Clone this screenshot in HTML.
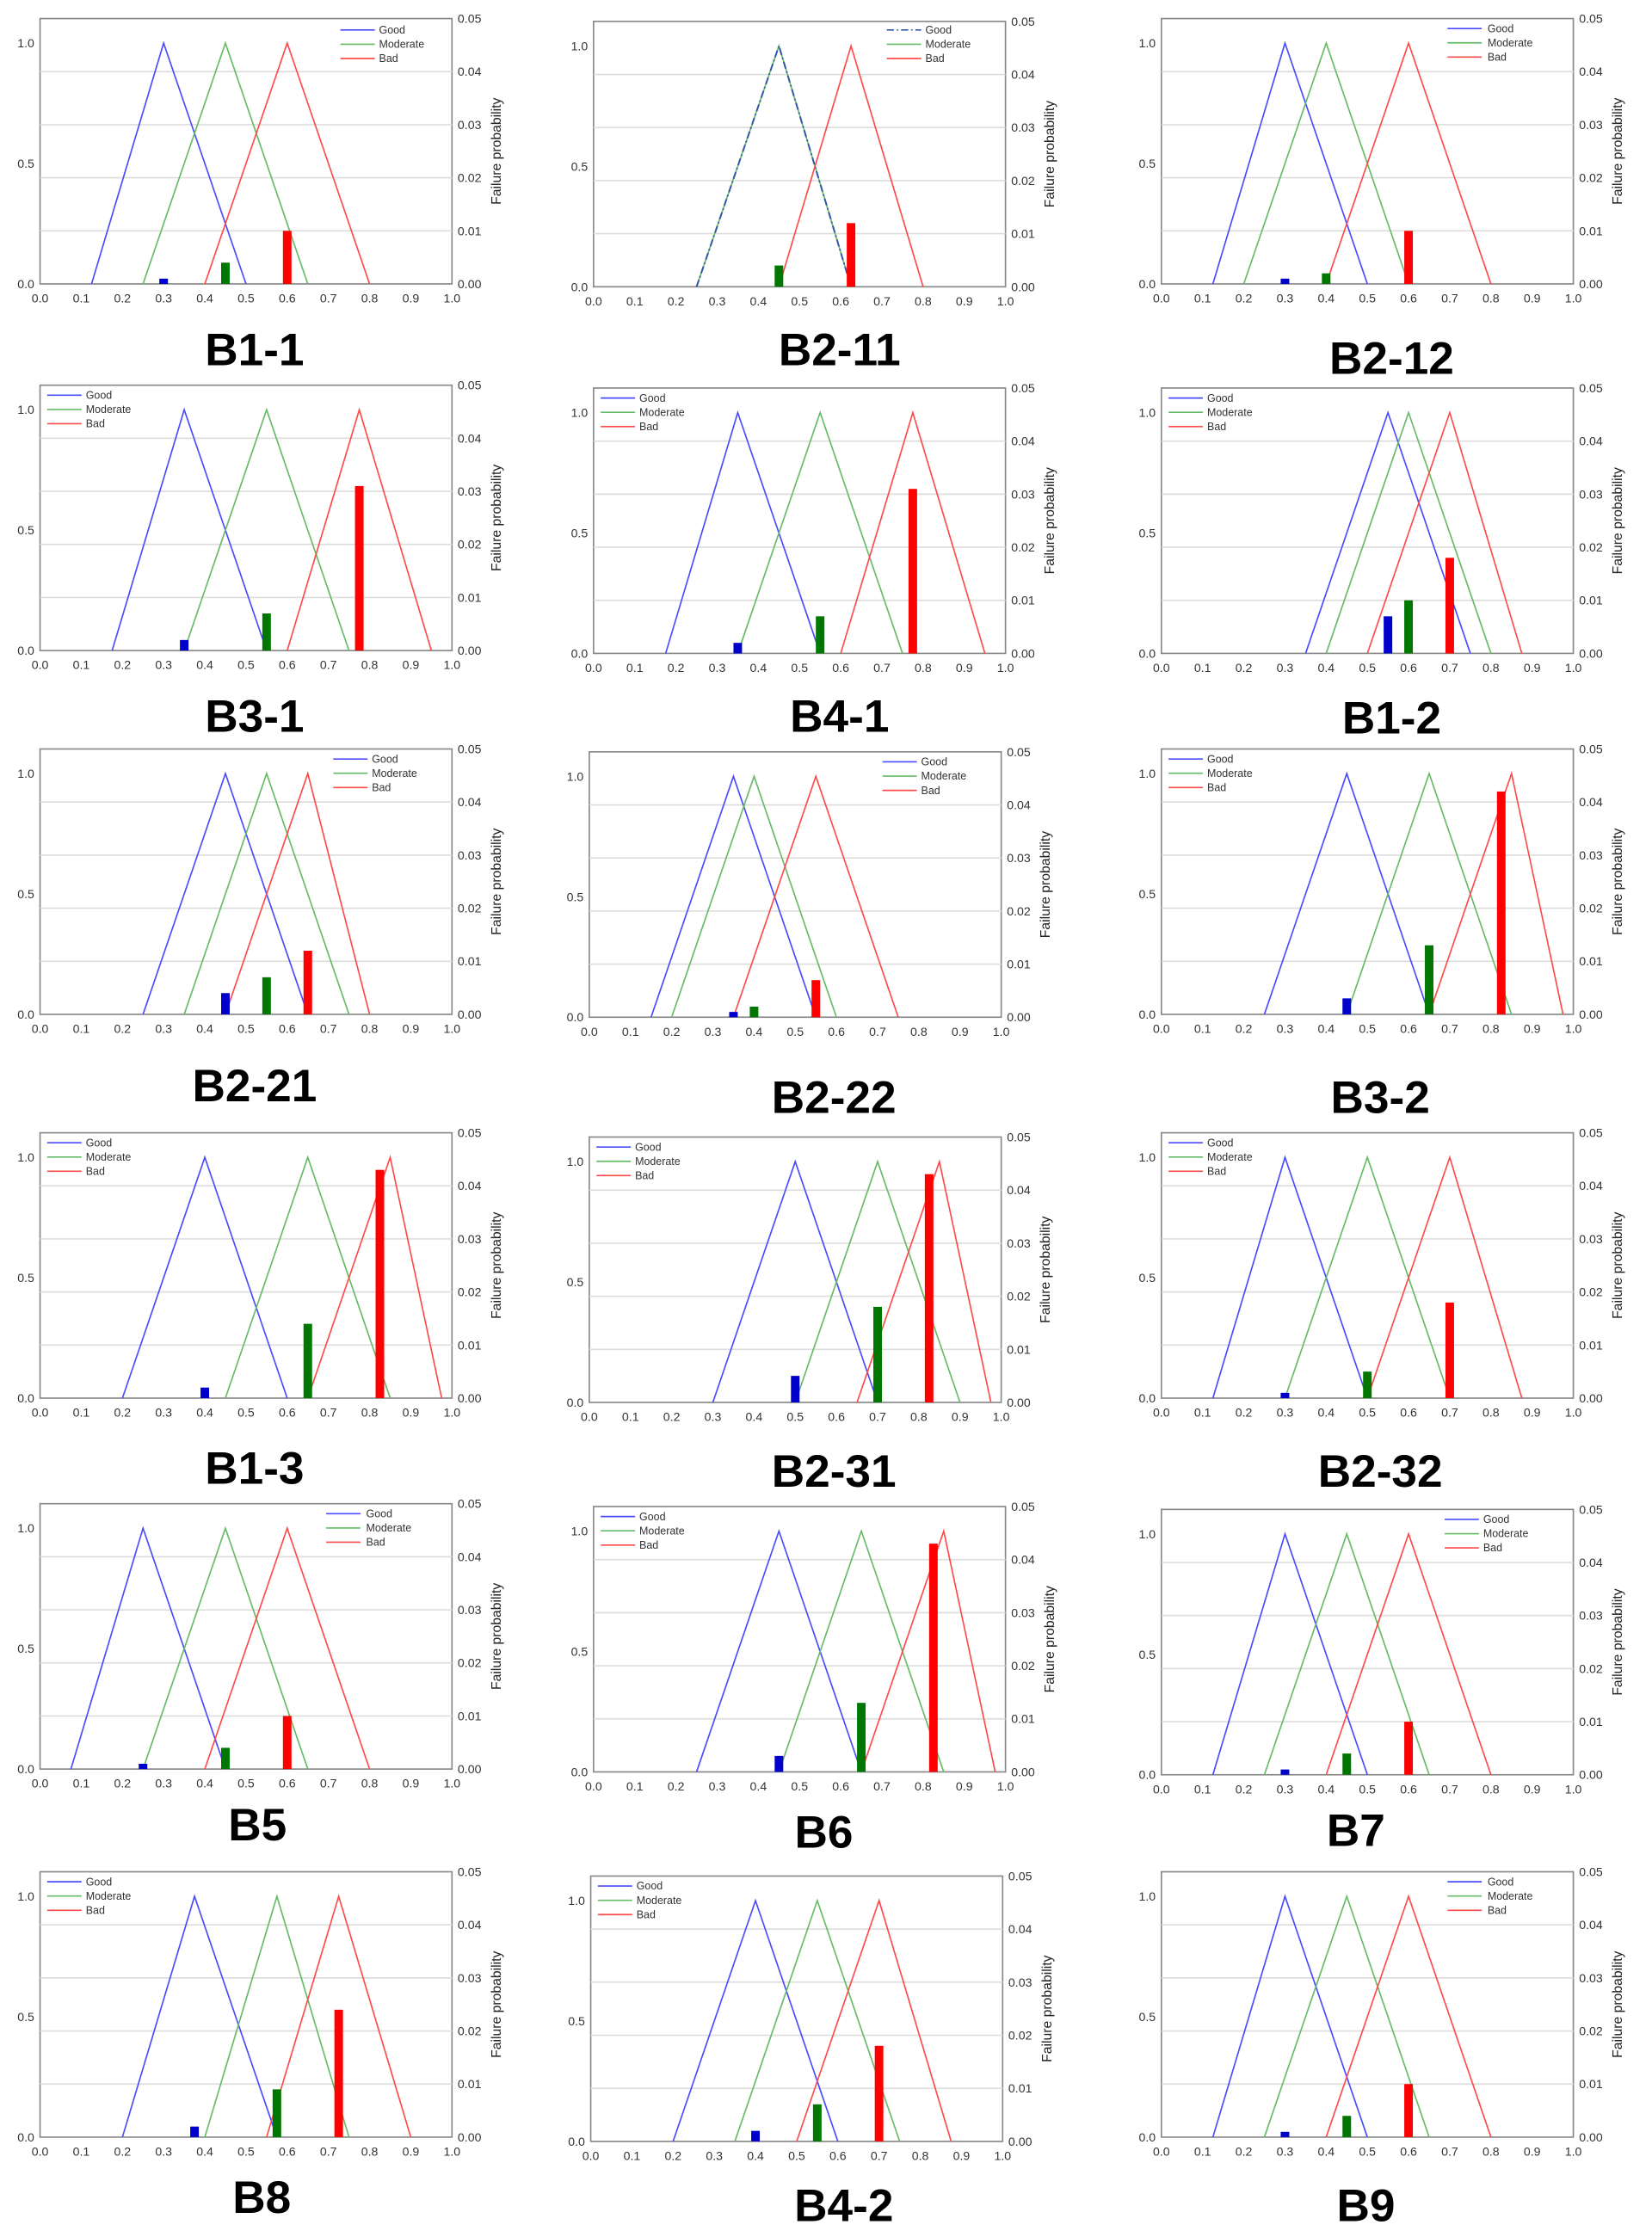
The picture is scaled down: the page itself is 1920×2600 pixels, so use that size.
<!DOCTYPE html>
<html><head><meta charset="utf-8"><style>
html,body{margin:0;padding:0;background:#fff}
svg{display:block}
.t{font-family:"Liberation Sans",sans-serif;font-size:8.5px;fill:#333}
.ft{font-family:"Liberation Sans",sans-serif;font-size:9.5px;fill:#222}
.lg{font-family:"Liberation Sans",sans-serif;font-size:7.5px;fill:#333}
.ti{font-family:"Liberation Sans",sans-serif;font-size:32px;font-weight:bold;fill:#000;text-anchor:middle}
.g{fill:none;stroke:#4a4aff;stroke-width:1}
.m{fill:none;stroke:#66bb66;stroke-width:1}
.b{fill:none;stroke:#ff4a4a;stroke-width:1}
</style></head><body>
<svg width="1920" height="2600" viewBox="0 0 1155 1568" preserveAspectRatio="none" xmlns="http://www.w3.org/2000/svg">
<rect width="1155" height="1568" fill="#fff"/>

<!-- ROW 1 -->
<g transform="translate(28,13)">
<rect width="288" height="186" fill="#fff" stroke="#888"/><path d="M0 148.8H288M0 111.6H288M0 74.4H288M0 37.2H288" stroke="#ddd"/>
<g class="t" text-anchor="end"><text x="-4" y="189">0.0</text><text x="-4" y="104.6">0.5</text><text x="-4" y="20.2">1.0</text></g>
<g class="t" text-anchor="middle"><text x="0" y="199">0.0</text><text x="28.8" y="199">0.1</text><text x="57.6" y="199">0.2</text><text x="86.4" y="199">0.3</text><text x="115.2" y="199">0.4</text><text x="144" y="199">0.5</text><text x="172.8" y="199">0.6</text><text x="201.6" y="199">0.7</text><text x="230.4" y="199">0.8</text><text x="259.2" y="199">0.9</text><text x="288" y="199">1.0</text></g>
<g class="t"><text x="292" y="189">0.00</text><text x="292" y="151.8">0.01</text><text x="292" y="114.6">0.02</text><text x="292" y="77.4">0.03</text><text x="292" y="40.2">0.04</text><text x="292" y="3">0.05</text></g>
<text class="ft" transform="translate(322,93) rotate(-90)" text-anchor="middle">Failure probability</text>
<polyline class="g" points="36,186 86.4,17.2 144,186"/><polyline class="m" points="72,186 129.6,17.2 187.2,186"/><polyline class="b" points="115.2,186 172.8,17.2 230.4,186"/>
<rect x="83.4" y="182.3" width="6" height="3.7" fill="#0000cc"/><rect x="126.6" y="171.1" width="6" height="14.9" fill="#007700"/><rect x="169.8" y="148.8" width="6" height="37.2" fill="#f00"/>
<path d="M210 8h24" stroke="#4a4aff"/><path d="M210 18h24" stroke="#66bb66"/><path d="M210 28h24" stroke="#ff4a4a"/>
<text class="lg" x="237" y="10.5">Good</text><text class="lg" x="237" y="20.5">Moderate</text><text class="lg" x="237" y="30.5">Bad</text>
</g>
<text class="ti" x="178" y="256">B1-1</text>

<g transform="translate(415,15)">
<rect width="288" height="186" fill="#fff" stroke="#888"/><path d="M0 148.8H288M0 111.6H288M0 74.4H288M0 37.2H288" stroke="#ddd"/>
<g class="t" text-anchor="end"><text x="-4" y="189">0.0</text><text x="-4" y="104.6">0.5</text><text x="-4" y="20.2">1.0</text></g>
<g class="t" text-anchor="middle"><text x="0" y="199">0.0</text><text x="28.8" y="199">0.1</text><text x="57.6" y="199">0.2</text><text x="86.4" y="199">0.3</text><text x="115.2" y="199">0.4</text><text x="144" y="199">0.5</text><text x="172.8" y="199">0.6</text><text x="201.6" y="199">0.7</text><text x="230.4" y="199">0.8</text><text x="259.2" y="199">0.9</text><text x="288" y="199">1.0</text></g>
<g class="t"><text x="292" y="189">0.00</text><text x="292" y="151.8">0.01</text><text x="292" y="114.6">0.02</text><text x="292" y="77.4">0.03</text><text x="292" y="40.2">0.04</text><text x="292" y="3">0.05</text></g>
<text class="ft" transform="translate(322,93) rotate(-90)" text-anchor="middle">Failure probability</text>
<polyline class="m" points="72,186 129.6,17.2 180,186"/><polyline fill="none" stroke="#3355aa" stroke-width="1.2" stroke-dasharray="5,2,1,2" points="72,186 129.6,17.2 180,186"/><polyline class="b" points="129.6,186 180,17.2 230.4,186"/>
<rect x="126.6" y="171.1" width="6" height="14.9" fill="#007700"/><rect x="177" y="141.4" width="6" height="44.6" fill="#f00"/>
<path d="M205 6h24" stroke="#3355aa" stroke-dasharray="5,2,1,2"/><path d="M205 16h24" stroke="#66bb66"/><path d="M205 26h24" stroke="#ff4a4a"/>
<text class="lg" x="232" y="8.5">Good</text><text class="lg" x="232" y="18.5">Moderate</text><text class="lg" x="232" y="28.5">Bad</text>
</g>
<text class="ti" x="587" y="256">B2-11</text>

<g transform="translate(812,13)">
<rect width="288" height="186" fill="#fff" stroke="#888"/><path d="M0 148.8H288M0 111.6H288M0 74.4H288M0 37.2H288" stroke="#ddd"/>
<g class="t" text-anchor="end"><text x="-4" y="189">0.0</text><text x="-4" y="104.6">0.5</text><text x="-4" y="20.2">1.0</text></g>
<g class="t" text-anchor="middle"><text x="0" y="199">0.0</text><text x="28.8" y="199">0.1</text><text x="57.6" y="199">0.2</text><text x="86.4" y="199">0.3</text><text x="115.2" y="199">0.4</text><text x="144" y="199">0.5</text><text x="172.8" y="199">0.6</text><text x="201.6" y="199">0.7</text><text x="230.4" y="199">0.8</text><text x="259.2" y="199">0.9</text><text x="288" y="199">1.0</text></g>
<g class="t"><text x="292" y="189">0.00</text><text x="292" y="151.8">0.01</text><text x="292" y="114.6">0.02</text><text x="292" y="77.4">0.03</text><text x="292" y="40.2">0.04</text><text x="292" y="3">0.05</text></g>
<text class="ft" transform="translate(322,93) rotate(-90)" text-anchor="middle">Failure probability</text>
<polyline class="g" points="36,186 86.4,17.2 144,186"/><polyline class="m" points="57.6,186 115.2,17.2 172.8,186"/><polyline class="b" points="115.2,186 172.8,17.2 230.4,186"/>
<rect x="83.4" y="182.3" width="6" height="3.7" fill="#0000cc"/><rect x="112.2" y="178.6" width="6" height="7.4" fill="#007700"/><rect x="169.8" y="148.8" width="6" height="37.2" fill="#f00"/>
<path d="M200 7h24" stroke="#4a4aff"/><path d="M200 17h24" stroke="#66bb66"/><path d="M200 27h24" stroke="#ff4a4a"/>
<text class="lg" x="228" y="9.5">Good</text><text class="lg" x="228" y="19.5">Moderate</text><text class="lg" x="228" y="29.5">Bad</text>
</g>
<text class="ti" x="973" y="262">B2-12</text>

<!-- ROW 2 -->
<g transform="translate(28,270)">
<rect width="288" height="186" fill="#fff" stroke="#888"/><path d="M0 148.8H288M0 111.6H288M0 74.4H288M0 37.2H288" stroke="#ddd"/>
<g class="t" text-anchor="end"><text x="-4" y="189">0.0</text><text x="-4" y="104.6">0.5</text><text x="-4" y="20.2">1.0</text></g>
<g class="t" text-anchor="middle"><text x="0" y="199">0.0</text><text x="28.8" y="199">0.1</text><text x="57.6" y="199">0.2</text><text x="86.4" y="199">0.3</text><text x="115.2" y="199">0.4</text><text x="144" y="199">0.5</text><text x="172.8" y="199">0.6</text><text x="201.6" y="199">0.7</text><text x="230.4" y="199">0.8</text><text x="259.2" y="199">0.9</text><text x="288" y="199">1.0</text></g>
<g class="t"><text x="292" y="189">0.00</text><text x="292" y="151.8">0.01</text><text x="292" y="114.6">0.02</text><text x="292" y="77.4">0.03</text><text x="292" y="40.2">0.04</text><text x="292" y="3">0.05</text></g>
<text class="ft" transform="translate(322,93) rotate(-90)" text-anchor="middle">Failure probability</text>
<polyline class="g" points="50.4,186 100.8,17.2 158.4,186"/><polyline class="m" points="100.8,186 158.4,17.2 216,186"/><polyline class="b" points="172.8,186 223.2,17.2 273.6,186"/>
<rect x="97.8" y="178.6" width="6" height="7.4" fill="#0000cc"/><rect x="155.4" y="160" width="6" height="26" fill="#007700"/><rect x="220.2" y="70.7" width="6" height="115.3" fill="#f00"/>
<path d="M5 7h24" stroke="#4a4aff"/><path d="M5 17h24" stroke="#66bb66"/><path d="M5 27h24" stroke="#ff4a4a"/>
<text class="lg" x="32" y="9.5">Good</text><text class="lg" x="32" y="19.5">Moderate</text><text class="lg" x="32" y="29.5">Bad</text>
</g>
<text class="ti" x="178" y="513">B3-1</text>

<g transform="translate(415,272)">
<rect width="288" height="186" fill="#fff" stroke="#888"/><path d="M0 148.8H288M0 111.6H288M0 74.4H288M0 37.2H288" stroke="#ddd"/>
<g class="t" text-anchor="end"><text x="-4" y="189">0.0</text><text x="-4" y="104.6">0.5</text><text x="-4" y="20.2">1.0</text></g>
<g class="t" text-anchor="middle"><text x="0" y="199">0.0</text><text x="28.8" y="199">0.1</text><text x="57.6" y="199">0.2</text><text x="86.4" y="199">0.3</text><text x="115.2" y="199">0.4</text><text x="144" y="199">0.5</text><text x="172.8" y="199">0.6</text><text x="201.6" y="199">0.7</text><text x="230.4" y="199">0.8</text><text x="259.2" y="199">0.9</text><text x="288" y="199">1.0</text></g>
<g class="t"><text x="292" y="189">0.00</text><text x="292" y="151.8">0.01</text><text x="292" y="114.6">0.02</text><text x="292" y="77.4">0.03</text><text x="292" y="40.2">0.04</text><text x="292" y="3">0.05</text></g>
<text class="ft" transform="translate(322,93) rotate(-90)" text-anchor="middle">Failure probability</text>
<polyline class="g" points="50.4,186 100.8,17.2 158.4,186"/><polyline class="m" points="100.8,186 158.4,17.2 216,186"/><polyline class="b" points="172.8,186 223.2,17.2 273.6,186"/>
<rect x="97.8" y="178.6" width="6" height="7.4" fill="#0000cc"/><rect x="155.4" y="160" width="6" height="26" fill="#007700"/><rect x="220.2" y="70.7" width="6" height="115.3" fill="#f00"/>
<path d="M5 7h24" stroke="#4a4aff"/><path d="M5 17h24" stroke="#66bb66"/><path d="M5 27h24" stroke="#ff4a4a"/>
<text class="lg" x="32" y="9.5">Good</text><text class="lg" x="32" y="19.5">Moderate</text><text class="lg" x="32" y="29.5">Bad</text>
</g>
<text class="ti" x="587" y="513">B4-1</text>

<g transform="translate(812,272)">
<rect width="288" height="186" fill="#fff" stroke="#888"/><path d="M0 148.8H288M0 111.6H288M0 74.4H288M0 37.2H288" stroke="#ddd"/>
<g class="t" text-anchor="end"><text x="-4" y="189">0.0</text><text x="-4" y="104.6">0.5</text><text x="-4" y="20.2">1.0</text></g>
<g class="t" text-anchor="middle"><text x="0" y="199">0.0</text><text x="28.8" y="199">0.1</text><text x="57.6" y="199">0.2</text><text x="86.4" y="199">0.3</text><text x="115.2" y="199">0.4</text><text x="144" y="199">0.5</text><text x="172.8" y="199">0.6</text><text x="201.6" y="199">0.7</text><text x="230.4" y="199">0.8</text><text x="259.2" y="199">0.9</text><text x="288" y="199">1.0</text></g>
<g class="t"><text x="292" y="189">0.00</text><text x="292" y="151.8">0.01</text><text x="292" y="114.6">0.02</text><text x="292" y="77.4">0.03</text><text x="292" y="40.2">0.04</text><text x="292" y="3">0.05</text></g>
<text class="ft" transform="translate(322,93) rotate(-90)" text-anchor="middle">Failure probability</text>
<polyline class="g" points="100.8,186 158.4,17.2 216,186"/><polyline class="m" points="115.2,186 172.8,17.2 230.4,186"/><polyline class="b" points="144,186 201.6,17.2 252,186"/>
<rect x="155.4" y="160" width="6" height="26" fill="#0000cc"/><rect x="169.8" y="148.8" width="6" height="37.2" fill="#007700"/><rect x="198.6" y="119" width="6" height="67" fill="#f00"/>
<path d="M5 7h24" stroke="#4a4aff"/><path d="M5 17h24" stroke="#66bb66"/><path d="M5 27h24" stroke="#ff4a4a"/>
<text class="lg" x="32" y="9.5">Good</text><text class="lg" x="32" y="19.5">Moderate</text><text class="lg" x="32" y="29.5">Bad</text>
</g>
<text class="ti" x="973" y="514">B1-2</text>

<!-- ROW 3 -->
<g transform="translate(28,525)">
<rect width="288" height="186" fill="#fff" stroke="#888"/><path d="M0 148.8H288M0 111.6H288M0 74.4H288M0 37.2H288" stroke="#ddd"/>
<g class="t" text-anchor="end"><text x="-4" y="189">0.0</text><text x="-4" y="104.6">0.5</text><text x="-4" y="20.2">1.0</text></g>
<g class="t" text-anchor="middle"><text x="0" y="199">0.0</text><text x="28.8" y="199">0.1</text><text x="57.6" y="199">0.2</text><text x="86.4" y="199">0.3</text><text x="115.2" y="199">0.4</text><text x="144" y="199">0.5</text><text x="172.8" y="199">0.6</text><text x="201.6" y="199">0.7</text><text x="230.4" y="199">0.8</text><text x="259.2" y="199">0.9</text><text x="288" y="199">1.0</text></g>
<g class="t"><text x="292" y="189">0.00</text><text x="292" y="151.8">0.01</text><text x="292" y="114.6">0.02</text><text x="292" y="77.4">0.03</text><text x="292" y="40.2">0.04</text><text x="292" y="3">0.05</text></g>
<text class="ft" transform="translate(322,93) rotate(-90)" text-anchor="middle">Failure probability</text>
<polyline class="g" points="72,186 129.6,17.2 187.2,186"/><polyline class="m" points="100.8,186 158.4,17.2 216,186"/><polyline class="b" points="129.6,186 187.2,17.2 230.4,186"/>
<rect x="126.6" y="171.1" width="6" height="14.9" fill="#0000cc"/><rect x="155.4" y="160" width="6" height="26" fill="#007700"/><rect x="184.2" y="141.4" width="6" height="44.6" fill="#f00"/>
<path d="M205 7h24" stroke="#4a4aff"/><path d="M205 17h24" stroke="#66bb66"/><path d="M205 27h24" stroke="#ff4a4a"/>
<text class="lg" x="232" y="9.5">Good</text><text class="lg" x="232" y="19.5">Moderate</text><text class="lg" x="232" y="29.5">Bad</text>
</g>
<text class="ti" x="178" y="772">B2-21</text>

<g transform="translate(412,527)">
<rect width="288" height="186" fill="#fff" stroke="#888"/><path d="M0 148.8H288M0 111.6H288M0 74.4H288M0 37.2H288" stroke="#ddd"/>
<g class="t" text-anchor="end"><text x="-4" y="189">0.0</text><text x="-4" y="104.6">0.5</text><text x="-4" y="20.2">1.0</text></g>
<g class="t" text-anchor="middle"><text x="0" y="199">0.0</text><text x="28.8" y="199">0.1</text><text x="57.6" y="199">0.2</text><text x="86.4" y="199">0.3</text><text x="115.2" y="199">0.4</text><text x="144" y="199">0.5</text><text x="172.8" y="199">0.6</text><text x="201.6" y="199">0.7</text><text x="230.4" y="199">0.8</text><text x="259.2" y="199">0.9</text><text x="288" y="199">1.0</text></g>
<g class="t"><text x="292" y="189">0.00</text><text x="292" y="151.8">0.01</text><text x="292" y="114.6">0.02</text><text x="292" y="77.4">0.03</text><text x="292" y="40.2">0.04</text><text x="292" y="3">0.05</text></g>
<text class="ft" transform="translate(322,93) rotate(-90)" text-anchor="middle">Failure probability</text>
<polyline class="g" points="43.2,186 100.8,17.2 158.4,186"/><polyline class="m" points="57.6,186 115.2,17.2 172.8,186"/><polyline class="b" points="100.8,186 158.4,17.2 216,186"/>
<rect x="97.8" y="182.3" width="6" height="3.7" fill="#0000cc"/><rect x="112.2" y="178.6" width="6" height="7.4" fill="#007700"/><rect x="155.4" y="160" width="6" height="26" fill="#f00"/>
<path d="M205 7h24" stroke="#4a4aff"/><path d="M205 17h24" stroke="#66bb66"/><path d="M205 27h24" stroke="#ff4a4a"/>
<text class="lg" x="232" y="9.5">Good</text><text class="lg" x="232" y="19.5">Moderate</text><text class="lg" x="232" y="29.5">Bad</text>
</g>
<text class="ti" x="583" y="780">B2-22</text>

<g transform="translate(812,525)">
<rect width="288" height="186" fill="#fff" stroke="#888"/><path d="M0 148.8H288M0 111.6H288M0 74.4H288M0 37.2H288" stroke="#ddd"/>
<g class="t" text-anchor="end"><text x="-4" y="189">0.0</text><text x="-4" y="104.6">0.5</text><text x="-4" y="20.2">1.0</text></g>
<g class="t" text-anchor="middle"><text x="0" y="199">0.0</text><text x="28.8" y="199">0.1</text><text x="57.6" y="199">0.2</text><text x="86.4" y="199">0.3</text><text x="115.2" y="199">0.4</text><text x="144" y="199">0.5</text><text x="172.8" y="199">0.6</text><text x="201.6" y="199">0.7</text><text x="230.4" y="199">0.8</text><text x="259.2" y="199">0.9</text><text x="288" y="199">1.0</text></g>
<g class="t"><text x="292" y="189">0.00</text><text x="292" y="151.8">0.01</text><text x="292" y="114.6">0.02</text><text x="292" y="77.4">0.03</text><text x="292" y="40.2">0.04</text><text x="292" y="3">0.05</text></g>
<text class="ft" transform="translate(322,93) rotate(-90)" text-anchor="middle">Failure probability</text>
<polyline class="g" points="72,186 129.6,17.2 187.2,186"/><polyline class="m" points="129.6,186 187.2,17.2 244.8,186"/><polyline class="b" points="187.2,186 244.8,17.2 280.8,186"/>
<rect x="126.6" y="174.8" width="6" height="11.2" fill="#0000cc"/><rect x="184.2" y="137.6" width="6" height="48.4" fill="#007700"/><rect x="234.6" y="29.8" width="6" height="156.2" fill="#f00"/>
<path d="M5 7h24" stroke="#4a4aff"/><path d="M5 17h24" stroke="#66bb66"/><path d="M5 27h24" stroke="#ff4a4a"/>
<text class="lg" x="32" y="9.5">Good</text><text class="lg" x="32" y="19.5">Moderate</text><text class="lg" x="32" y="29.5">Bad</text>
</g>
<text class="ti" x="965" y="780">B3-2</text>

<!-- ROW 4 -->
<g transform="translate(28,794)">
<rect width="288" height="186" fill="#fff" stroke="#888"/><path d="M0 148.8H288M0 111.6H288M0 74.4H288M0 37.2H288" stroke="#ddd"/>
<g class="t" text-anchor="end"><text x="-4" y="189">0.0</text><text x="-4" y="104.6">0.5</text><text x="-4" y="20.2">1.0</text></g>
<g class="t" text-anchor="middle"><text x="0" y="199">0.0</text><text x="28.8" y="199">0.1</text><text x="57.6" y="199">0.2</text><text x="86.4" y="199">0.3</text><text x="115.2" y="199">0.4</text><text x="144" y="199">0.5</text><text x="172.8" y="199">0.6</text><text x="201.6" y="199">0.7</text><text x="230.4" y="199">0.8</text><text x="259.2" y="199">0.9</text><text x="288" y="199">1.0</text></g>
<g class="t"><text x="292" y="189">0.00</text><text x="292" y="151.8">0.01</text><text x="292" y="114.6">0.02</text><text x="292" y="77.4">0.03</text><text x="292" y="40.2">0.04</text><text x="292" y="3">0.05</text></g>
<text class="ft" transform="translate(322,93) rotate(-90)" text-anchor="middle">Failure probability</text>
<polyline class="g" points="57.6,186 115.2,17.2 172.8,186"/><polyline class="m" points="129.6,186 187.2,17.2 244.8,186"/><polyline class="b" points="187.2,186 244.8,17.2 280.8,186"/>
<rect x="112.2" y="178.6" width="6" height="7.4" fill="#0000cc"/><rect x="184.2" y="133.9" width="6" height="52.1" fill="#007700"/><rect x="234.6" y="26" width="6" height="160" fill="#f00"/>
<path d="M5 7h24" stroke="#4a4aff"/><path d="M5 17h24" stroke="#66bb66"/><path d="M5 27h24" stroke="#ff4a4a"/>
<text class="lg" x="32" y="9.5">Good</text><text class="lg" x="32" y="19.5">Moderate</text><text class="lg" x="32" y="29.5">Bad</text>
</g>
<text class="ti" x="178" y="1040">B1-3</text>

<g transform="translate(412,797)">
<rect width="288" height="186" fill="#fff" stroke="#888"/><path d="M0 148.8H288M0 111.6H288M0 74.4H288M0 37.2H288" stroke="#ddd"/>
<g class="t" text-anchor="end"><text x="-4" y="189">0.0</text><text x="-4" y="104.6">0.5</text><text x="-4" y="20.2">1.0</text></g>
<g class="t" text-anchor="middle"><text x="0" y="199">0.0</text><text x="28.8" y="199">0.1</text><text x="57.6" y="199">0.2</text><text x="86.4" y="199">0.3</text><text x="115.2" y="199">0.4</text><text x="144" y="199">0.5</text><text x="172.8" y="199">0.6</text><text x="201.6" y="199">0.7</text><text x="230.4" y="199">0.8</text><text x="259.2" y="199">0.9</text><text x="288" y="199">1.0</text></g>
<g class="t"><text x="292" y="189">0.00</text><text x="292" y="151.8">0.01</text><text x="292" y="114.6">0.02</text><text x="292" y="77.4">0.03</text><text x="292" y="40.2">0.04</text><text x="292" y="3">0.05</text></g>
<text class="ft" transform="translate(322,93) rotate(-90)" text-anchor="middle">Failure probability</text>
<polyline class="g" points="86.4,186 144,17.2 201.6,186"/><polyline class="m" points="144,186 201.6,17.2 259.2,186"/><polyline class="b" points="187.2,186 244.8,17.2 280.8,186"/>
<rect x="141" y="167.4" width="6" height="18.6" fill="#0000cc"/><rect x="198.6" y="119" width="6" height="67" fill="#007700"/><rect x="234.6" y="26" width="6" height="160" fill="#f00"/>
<path d="M5 7h24" stroke="#4a4aff"/><path d="M5 17h24" stroke="#66bb66"/><path d="M5 27h24" stroke="#ff4a4a"/>
<text class="lg" x="32" y="9.5">Good</text><text class="lg" x="32" y="19.5">Moderate</text><text class="lg" x="32" y="29.5">Bad</text>
</g>
<text class="ti" x="583" y="1042">B2-31</text>

<g transform="translate(812,794)">
<rect width="288" height="186" fill="#fff" stroke="#888"/><path d="M0 148.8H288M0 111.6H288M0 74.4H288M0 37.2H288" stroke="#ddd"/>
<g class="t" text-anchor="end"><text x="-4" y="189">0.0</text><text x="-4" y="104.6">0.5</text><text x="-4" y="20.2">1.0</text></g>
<g class="t" text-anchor="middle"><text x="0" y="199">0.0</text><text x="28.8" y="199">0.1</text><text x="57.6" y="199">0.2</text><text x="86.4" y="199">0.3</text><text x="115.2" y="199">0.4</text><text x="144" y="199">0.5</text><text x="172.8" y="199">0.6</text><text x="201.6" y="199">0.7</text><text x="230.4" y="199">0.8</text><text x="259.2" y="199">0.9</text><text x="288" y="199">1.0</text></g>
<g class="t"><text x="292" y="189">0.00</text><text x="292" y="151.8">0.01</text><text x="292" y="114.6">0.02</text><text x="292" y="77.4">0.03</text><text x="292" y="40.2">0.04</text><text x="292" y="3">0.05</text></g>
<text class="ft" transform="translate(322,93) rotate(-90)" text-anchor="middle">Failure probability</text>
<polyline class="g" points="36,186 86.4,17.2 144,186"/><polyline class="m" points="86.4,186 144,17.2 201.6,186"/><polyline class="b" points="144,186 201.6,17.2 252,186"/>
<rect x="83.4" y="182.3" width="6" height="3.7" fill="#0000cc"/><rect x="141" y="167.4" width="6" height="18.6" fill="#007700"/><rect x="198.6" y="119" width="6" height="67" fill="#f00"/>
<path d="M5 7h24" stroke="#4a4aff"/><path d="M5 17h24" stroke="#66bb66"/><path d="M5 27h24" stroke="#ff4a4a"/>
<text class="lg" x="32" y="9.5">Good</text><text class="lg" x="32" y="19.5">Moderate</text><text class="lg" x="32" y="29.5">Bad</text>
</g>
<text class="ti" x="965" y="1042">B2-32</text>

<!-- ROW 5 -->
<g transform="translate(28,1054)">
<rect width="288" height="186" fill="#fff" stroke="#888"/><path d="M0 148.8H288M0 111.6H288M0 74.4H288M0 37.2H288" stroke="#ddd"/>
<g class="t" text-anchor="end"><text x="-4" y="189">0.0</text><text x="-4" y="104.6">0.5</text><text x="-4" y="20.2">1.0</text></g>
<g class="t" text-anchor="middle"><text x="0" y="199">0.0</text><text x="28.8" y="199">0.1</text><text x="57.6" y="199">0.2</text><text x="86.4" y="199">0.3</text><text x="115.2" y="199">0.4</text><text x="144" y="199">0.5</text><text x="172.8" y="199">0.6</text><text x="201.6" y="199">0.7</text><text x="230.4" y="199">0.8</text><text x="259.2" y="199">0.9</text><text x="288" y="199">1.0</text></g>
<g class="t"><text x="292" y="189">0.00</text><text x="292" y="151.8">0.01</text><text x="292" y="114.6">0.02</text><text x="292" y="77.4">0.03</text><text x="292" y="40.2">0.04</text><text x="292" y="3">0.05</text></g>
<text class="ft" transform="translate(322,93) rotate(-90)" text-anchor="middle">Failure probability</text>
<polyline class="g" points="21.6,186 72,17.2 129.6,186"/><polyline class="m" points="72,186 129.6,17.2 187.2,186"/><polyline class="b" points="115.2,186 172.8,17.2 230.4,186"/>
<rect x="69" y="182.3" width="6" height="3.7" fill="#0000cc"/><rect x="126.6" y="171.1" width="6" height="14.9" fill="#007700"/><rect x="169.8" y="148.8" width="6" height="37.2" fill="#f00"/>
<path d="M200 7h24" stroke="#4a4aff"/><path d="M200 17h24" stroke="#66bb66"/><path d="M200 27h24" stroke="#ff4a4a"/>
<text class="lg" x="228" y="9.5">Good</text><text class="lg" x="228" y="19.5">Moderate</text><text class="lg" x="228" y="29.5">Bad</text>
</g>
<text class="ti" x="180" y="1290">B5</text>

<g transform="translate(415,1056)">
<rect width="288" height="186" fill="#fff" stroke="#888"/><path d="M0 148.8H288M0 111.6H288M0 74.4H288M0 37.2H288" stroke="#ddd"/>
<g class="t" text-anchor="end"><text x="-4" y="189">0.0</text><text x="-4" y="104.6">0.5</text><text x="-4" y="20.2">1.0</text></g>
<g class="t" text-anchor="middle"><text x="0" y="199">0.0</text><text x="28.8" y="199">0.1</text><text x="57.6" y="199">0.2</text><text x="86.4" y="199">0.3</text><text x="115.2" y="199">0.4</text><text x="144" y="199">0.5</text><text x="172.8" y="199">0.6</text><text x="201.6" y="199">0.7</text><text x="230.4" y="199">0.8</text><text x="259.2" y="199">0.9</text><text x="288" y="199">1.0</text></g>
<g class="t"><text x="292" y="189">0.00</text><text x="292" y="151.8">0.01</text><text x="292" y="114.6">0.02</text><text x="292" y="77.4">0.03</text><text x="292" y="40.2">0.04</text><text x="292" y="3">0.05</text></g>
<text class="ft" transform="translate(322,93) rotate(-90)" text-anchor="middle">Failure probability</text>
<polyline class="g" points="72,186 129.6,17.2 187.2,186"/><polyline class="m" points="129.6,186 187.2,17.2 244.8,186"/><polyline class="b" points="187.2,186 244.8,17.2 280.8,186"/>
<rect x="126.6" y="174.8" width="6" height="11.2" fill="#0000cc"/><rect x="184.2" y="137.6" width="6" height="48.4" fill="#007700"/><rect x="234.6" y="26" width="6" height="160" fill="#f00"/>
<path d="M5 7h24" stroke="#4a4aff"/><path d="M5 17h24" stroke="#66bb66"/><path d="M5 27h24" stroke="#ff4a4a"/>
<text class="lg" x="32" y="9.5">Good</text><text class="lg" x="32" y="19.5">Moderate</text><text class="lg" x="32" y="29.5">Bad</text>
</g>
<text class="ti" x="576" y="1295">B6</text>

<g transform="translate(812,1058)">
<rect width="288" height="186" fill="#fff" stroke="#888"/><path d="M0 148.8H288M0 111.6H288M0 74.4H288M0 37.2H288" stroke="#ddd"/>
<g class="t" text-anchor="end"><text x="-4" y="189">0.0</text><text x="-4" y="104.6">0.5</text><text x="-4" y="20.2">1.0</text></g>
<g class="t" text-anchor="middle"><text x="0" y="199">0.0</text><text x="28.8" y="199">0.1</text><text x="57.6" y="199">0.2</text><text x="86.4" y="199">0.3</text><text x="115.2" y="199">0.4</text><text x="144" y="199">0.5</text><text x="172.8" y="199">0.6</text><text x="201.6" y="199">0.7</text><text x="230.4" y="199">0.8</text><text x="259.2" y="199">0.9</text><text x="288" y="199">1.0</text></g>
<g class="t"><text x="292" y="189">0.00</text><text x="292" y="151.8">0.01</text><text x="292" y="114.6">0.02</text><text x="292" y="77.4">0.03</text><text x="292" y="40.2">0.04</text><text x="292" y="3">0.05</text></g>
<text class="ft" transform="translate(322,93) rotate(-90)" text-anchor="middle">Failure probability</text>
<polyline class="g" points="36,186 86.4,17.2 144,186"/><polyline class="m" points="72,186 129.6,17.2 187.2,186"/><polyline class="b" points="115.2,186 172.8,17.2 230.4,186"/>
<rect x="83.4" y="182.3" width="6" height="3.7" fill="#0000cc"/><rect x="126.6" y="171.1" width="6" height="14.9" fill="#007700"/><rect x="169.8" y="148.8" width="6" height="37.2" fill="#f00"/>
<path d="M198 7h24" stroke="#4a4aff"/><path d="M198 17h24" stroke="#66bb66"/><path d="M198 27h24" stroke="#ff4a4a"/>
<text class="lg" x="225" y="9.5">Good</text><text class="lg" x="225" y="19.5">Moderate</text><text class="lg" x="225" y="29.5">Bad</text>
</g>
<text class="ti" x="948" y="1294">B7</text>

<!-- ROW 6 -->
<g transform="translate(28,1312)">
<rect width="288" height="186" fill="#fff" stroke="#888"/><path d="M0 148.8H288M0 111.6H288M0 74.4H288M0 37.2H288" stroke="#ddd"/>
<g class="t" text-anchor="end"><text x="-4" y="189">0.0</text><text x="-4" y="104.6">0.5</text><text x="-4" y="20.2">1.0</text></g>
<g class="t" text-anchor="middle"><text x="0" y="199">0.0</text><text x="28.8" y="199">0.1</text><text x="57.6" y="199">0.2</text><text x="86.4" y="199">0.3</text><text x="115.2" y="199">0.4</text><text x="144" y="199">0.5</text><text x="172.8" y="199">0.6</text><text x="201.6" y="199">0.7</text><text x="230.4" y="199">0.8</text><text x="259.2" y="199">0.9</text><text x="288" y="199">1.0</text></g>
<g class="t"><text x="292" y="189">0.00</text><text x="292" y="151.8">0.01</text><text x="292" y="114.6">0.02</text><text x="292" y="77.4">0.03</text><text x="292" y="40.2">0.04</text><text x="292" y="3">0.05</text></g>
<text class="ft" transform="translate(322,93) rotate(-90)" text-anchor="middle">Failure probability</text>
<polyline class="g" points="57.6,186 108,17.2 165.6,186"/><polyline class="m" points="115.2,186 165.6,17.2 216,186"/><polyline class="b" points="158.4,186 208.8,17.2 259.2,186"/>
<rect x="105" y="178.6" width="6" height="7.4" fill="#0000cc"/><rect x="162.6" y="152.5" width="6" height="33.5" fill="#007700"/><rect x="205.8" y="96.7" width="6" height="89.3" fill="#f00"/>
<path d="M5 7h24" stroke="#4a4aff"/><path d="M5 17h24" stroke="#66bb66"/><path d="M5 27h24" stroke="#ff4a4a"/>
<text class="lg" x="32" y="9.5">Good</text><text class="lg" x="32" y="19.5">Moderate</text><text class="lg" x="32" y="29.5">Bad</text>
</g>
<text class="ti" x="183" y="1551">B8</text>

<g transform="translate(413,1315)">
<rect width="288" height="186" fill="#fff" stroke="#888"/><path d="M0 148.8H288M0 111.6H288M0 74.4H288M0 37.2H288" stroke="#ddd"/>
<g class="t" text-anchor="end"><text x="-4" y="189">0.0</text><text x="-4" y="104.6">0.5</text><text x="-4" y="20.2">1.0</text></g>
<g class="t" text-anchor="middle"><text x="0" y="199">0.0</text><text x="28.8" y="199">0.1</text><text x="57.6" y="199">0.2</text><text x="86.4" y="199">0.3</text><text x="115.2" y="199">0.4</text><text x="144" y="199">0.5</text><text x="172.8" y="199">0.6</text><text x="201.6" y="199">0.7</text><text x="230.4" y="199">0.8</text><text x="259.2" y="199">0.9</text><text x="288" y="199">1.0</text></g>
<g class="t"><text x="292" y="189">0.00</text><text x="292" y="151.8">0.01</text><text x="292" y="114.6">0.02</text><text x="292" y="77.4">0.03</text><text x="292" y="40.2">0.04</text><text x="292" y="3">0.05</text></g>
<text class="ft" transform="translate(322,93) rotate(-90)" text-anchor="middle">Failure probability</text>
<polyline class="g" points="57.6,186 115.2,17.2 172.8,186"/><polyline class="m" points="100.8,186 158.4,17.2 216,186"/><polyline class="b" points="144,186 201.6,17.2 252,186"/>
<rect x="112.2" y="178.6" width="6" height="7.4" fill="#0000cc"/><rect x="155.4" y="160" width="6" height="26" fill="#007700"/><rect x="198.6" y="119" width="6" height="67" fill="#f00"/>
<path d="M5 7h24" stroke="#4a4aff"/><path d="M5 17h24" stroke="#66bb66"/><path d="M5 27h24" stroke="#ff4a4a"/>
<text class="lg" x="32" y="9.5">Good</text><text class="lg" x="32" y="19.5">Moderate</text><text class="lg" x="32" y="29.5">Bad</text>
</g>
<text class="ti" x="590" y="1557">B4-2</text>

<g transform="translate(812,1312)">
<rect width="288" height="186" fill="#fff" stroke="#888"/><path d="M0 148.8H288M0 111.6H288M0 74.4H288M0 37.2H288" stroke="#ddd"/>
<g class="t" text-anchor="end"><text x="-4" y="189">0.0</text><text x="-4" y="104.6">0.5</text><text x="-4" y="20.2">1.0</text></g>
<g class="t" text-anchor="middle"><text x="0" y="199">0.0</text><text x="28.8" y="199">0.1</text><text x="57.6" y="199">0.2</text><text x="86.4" y="199">0.3</text><text x="115.2" y="199">0.4</text><text x="144" y="199">0.5</text><text x="172.8" y="199">0.6</text><text x="201.6" y="199">0.7</text><text x="230.4" y="199">0.8</text><text x="259.2" y="199">0.9</text><text x="288" y="199">1.0</text></g>
<g class="t"><text x="292" y="189">0.00</text><text x="292" y="151.8">0.01</text><text x="292" y="114.6">0.02</text><text x="292" y="77.4">0.03</text><text x="292" y="40.2">0.04</text><text x="292" y="3">0.05</text></g>
<text class="ft" transform="translate(322,93) rotate(-90)" text-anchor="middle">Failure probability</text>
<polyline class="g" points="36,186 86.4,17.2 144,186"/><polyline class="m" points="72,186 129.6,17.2 187.2,186"/><polyline class="b" points="115.2,186 172.8,17.2 230.4,186"/>
<rect x="83.4" y="182.3" width="6" height="3.7" fill="#0000cc"/><rect x="126.6" y="171.1" width="6" height="14.9" fill="#007700"/><rect x="169.8" y="148.8" width="6" height="37.2" fill="#f00"/>
<path d="M200 7h24" stroke="#4a4aff"/><path d="M200 17h24" stroke="#66bb66"/><path d="M200 27h24" stroke="#ff4a4a"/>
<text class="lg" x="228" y="9.5">Good</text><text class="lg" x="228" y="19.5">Moderate</text><text class="lg" x="228" y="29.5">Bad</text>
</g>
<text class="ti" x="955" y="1557">B9</text>
</svg>
</body></html>
